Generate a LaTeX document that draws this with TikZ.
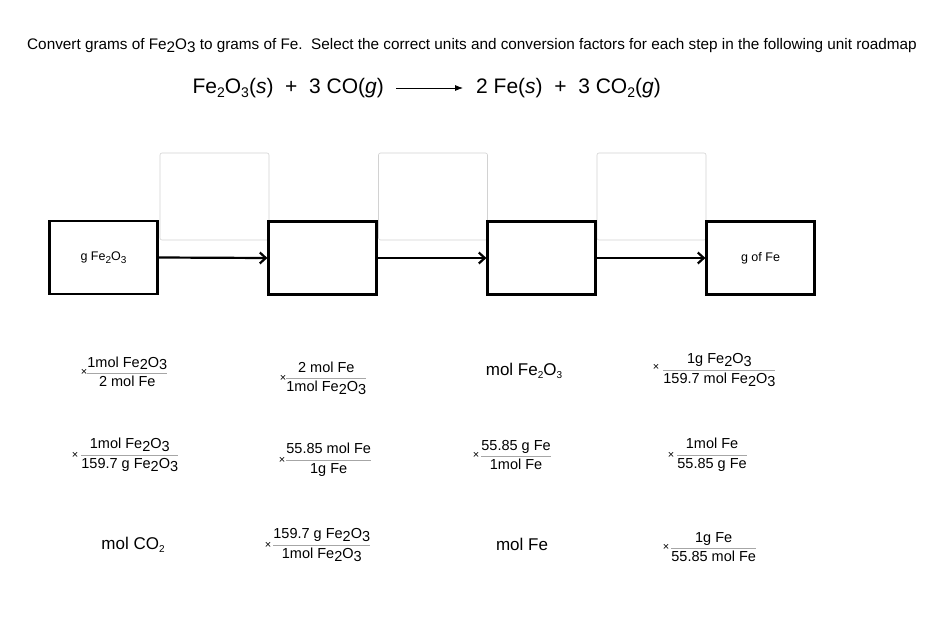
\documentclass[tikz,border=0pt]{standalone}
\usepackage{fontspec}
\setmainfont{Liberation Sans}
\usetikzlibrary{arrows.meta}
\newcommand\sbb[1]{\raisebox{-2.5pt}{#1}}
\newcommand\sbs[1]{\raisebox{-3pt}{\fontsize{10}{11}\selectfont #1}}
\newcommand\sbe[1]{\raisebox{-4pt}{\fontsize{14}{15}\selectfont #1}}
\newcommand\fr[2]{{\color{gray!70}$\displaystyle\frac{\mbox{\color{black}#1}}{\mbox{\color{black}#2}}$}}
\newcommand\FeO{Fe\sbb{2}O\sbb{3}}
\tikzset{
  blk/.style={draw=black,line width=2.2pt,minimum width=108pt,minimum height=73pt,inner sep=0},
  ghost/.style={draw=gray!35,rounded corners=2pt,line width=0.6pt,minimum width=109pt,minimum height=87pt,inner sep=0},
  conn/.style={line width=2.2pt,-{Straight Barb[length=6pt,width=11pt]}},
  lab/.style={font=\fontsize{14.5}{16}\selectfont,inner sep=0},
  big/.style={font=\fontsize{17}{19}\selectfont,inner sep=0},
  tm/.style={font=\fontsize{11}{12}\selectfont,inner sep=0}
}
\begin{document}
\begin{tikzpicture}[x=1pt,y=-1pt]
\useasboundingbox[clip] (0,0) rectangle (939,618);
\fill[white] (0,0) rectangle (939,618);
\node[anchor=west,font=\fontsize{15.3}{17}\selectfont,inner sep=0] (title) at (27,46) {Convert grams of Fe\sbb{2}O\sbb{3} to grams of Fe.\ \ Select the correct units and conversion factors for each step in the following unit roadmap};
\node[anchor=east,font=\fontsize{21}{23}\selectfont,inner sep=0] (lhs) at (384,88) {Fe\sbe{2}O\sbe{3}(\textit{s})\ \ +\ \ 3 CO(\textit{g})};
\node[anchor=west,font=\fontsize{21}{23}\selectfont,inner sep=0] (rhs) at (476,88) {2 Fe(\textit{s})\ \ +\ \ 3 CO\sbe{2}(\textit{g})};
\coordinate (ra) at (396,88); \coordinate (rb) at (463,88);
\draw[-{Latex[length=8pt,width=6pt]},line width=0.8pt] (ra) -- (rb);
\node[ghost] (g1) at (214.5,196.5) {};
\node[ghost] (g2) at (433,196.5) {};
\node[ghost] (g3) at (651.5,196.5) {};
\node[blk] (b1) at (103.5,257.5) {\fontsize{12.5}{14}\selectfont g Fe\sbs{2}O\sbs{3}};
\node[blk] (b2) at (322.5,258) {};
\node[blk] (b3) at (541.5,258) {};
\node[blk] (b4) at (760.5,258) {\fontsize{12.5}{14}\selectfont g of Fe};
\draw[conn] (b1.east) -- (b2.west);
\draw[conn] (b2.east) -- (b3.west);
\draw[conn] (b3.east) -- (b4.west);
% row 1
\node[tm] (x11) at (84,372) {×}; \node[lab,anchor=west] (f11) at (86,372) {\fr{1mol \FeO}{2 mol Fe}};
\node[tm] (x12) at (283,378) {×}; \node[lab,anchor=west] (f12) at (285,378) {\fr{2 mol Fe}{1mol \FeO}};
\node[big] (t13) at (524,371) {mol Fe\sbs{2}O\sbs{3}};
\node[tm] (x14) at (656,367) {×}; \node[lab,anchor=west] (f14) at (662,370) {\fr{1g \FeO}{159.7 mol \FeO}};
% row 2
\node[tm] (x21) at (75,455) {×}; \node[lab,anchor=west] (f21) at (80,455) {\fr{1mol \FeO}{159.7 g \FeO}};
\node[tm] (x22) at (282,460) {×}; \node[lab,anchor=west] (f22) at (285,460) {\fr{55.85 mol Fe}{1g Fe}};
\node[tm] (x23) at (476,455) {×}; \node[lab,anchor=west] (f23) at (480,455) {\fr{55.85 g Fe}{1mol Fe}};
\node[tm] (x24) at (671,455) {×}; \node[lab,anchor=west] (f24) at (676,455) {\fr{1mol Fe}{55.85 g Fe}};
% row 3
\node[big] (t31) at (133,545) {mol CO\sbs{2}};
\node[tm] (x32) at (268,545) {×}; \node[lab,anchor=west] (f32) at (272,545) {\fr{159.7 g \FeO}{1mol \FeO}};
\node[big] (t33) at (522,544) {mol Fe};
\node[tm] (x34) at (666,547) {×}; \node[lab,anchor=west] (f34) at (670,547) {\fr{1g Fe}{55.85 mol Fe}};
\end{tikzpicture}
\end{document}
